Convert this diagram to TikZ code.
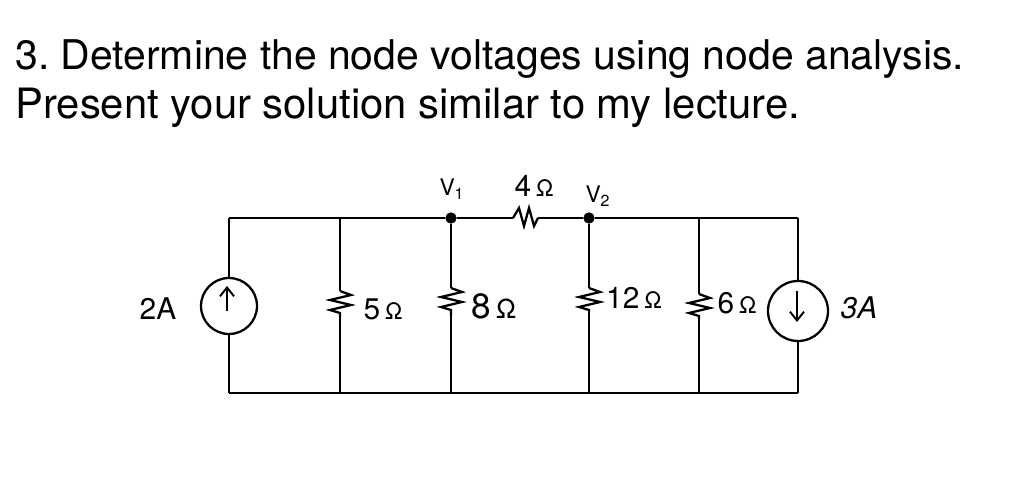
\documentclass[tikz,border=0pt]{standalone}
\usepackage{fontspec}
\setmainfont{TeX Gyre Heros}
\usetikzlibrary{positioning}
\usetikzlibrary{arrows.meta}
\tikzstyle{wire} = [draw,line width=1.3pt]
\tikzstyle{dot} = [circle,fill=black,draw,minimum size=6pt,inner sep=0pt]
\tikzstyle{source} = [circle,draw,line width=1.3pt,fill=white,minimum size=1.12cm,inner sep=0pt]
\tikzstyle{flow} = [draw,line width=1.1pt,-{Straight Barb[length=5pt,width=8pt]}]
\tikzstyle{hand} = [font=\fontsize{17}{20}\selectfont,inner sep=0pt]
\newcommand{\ohmsym}{{\fontsize{13}{15}\selectfont Ω}}

\begin{document}
\frenchspacing
\begin{tikzpicture}[x=0.02cm,y=-0.02cm]
  \useasboundingbox (0,0) rectangle (1035,499);

  \node[anchor=north west,align=left,inner sep=0pt,font=\fontsize{23.3}{27.8}\selectfont] (title) at (15,39)
    {3. Determine the node voltages using node analysis.\\{\fontsize{23.8}{27.8}\selectfont Present your solution similar to my lecture.}};

  % corners, top and bottom of each branch
  \foreach \pos/\name in {{(229,218)/tl}, {(340,218)/ta}, {(699,218)/td}, {(798,218)/tr},
      {(229,393)/bl}, {(340,393)/ba}, {(451,393)/bb}, {(589,393)/bc}, {(699,393)/bd}, {(798,393)/br},
      {(340,291)/ra1}, {(340,317)/ra2}, {(451,288)/rb1}, {(451,316)/rb2},
      {(589,288)/rc1}, {(589,311)/rc2}, {(699,294)/rd1}, {(699,319)/rd2},
      {(513,218)/re1}, {(538,218)/re2}}
    \node[coordinate] (\name) at \pos {};

  \node[dot] (v1) at (451,218) {};
  \node[dot] (v2) at (589,218) {};

  \foreach \source/ \dest in {tl/ta, ta/v1, v1/re1, re2/v2, v2/td, td/tr, bl/ba, ba/bb, bb/bc, bc/bd, bd/br,
      ta/ra1, ra2/ba, v1/rb1, rb2/bb, v2/rc1, rc2/bc, td/rd1, rd2/bd}
    \path[wire] (\source) -- (\dest);

  % zigzags
  \foreach \source/ \dest in {ra1/ra2, rb1/rb2, rc1/rc2, rd1/rd2}
    \path[wire] (\source) -- ++(11,4) -- ++(-21,5) -- ++(21,5) -- ++(-21,5) -- ++(10,3) -- (\dest);
  \path[wire] (re1) -- ++(6,-10) -- ++(5,18) -- ++(5,-18) -- ++(5,18) -- (re2);

  % the two current sources
  \node[source] (sa) at (229,306) {};
  \node[source,minimum size=1.2cm] (sb) at (798,311) {};
  \path[wire] (tl) -- (sa) (sa) -- (bl) (tr) -- (sb) (sb) -- (br);
  \coordinate (aa1) at (227,311);
  \coordinate (aa2) at (227,286);
  \coordinate (ab1) at (797,291);
  \coordinate (ab2) at (797,322);
  \path[flow] (aa1) -- (aa2);
  \path[flow] (ab1) -- (ab2);

  \foreach \pos/\name/\label in {{(158,309)/lsa/2A}, {(383,309)/lra/5\,\ohmsym}, {(494,306)/lrb/{\fontsize{20}{20}\selectfont 8}\,{\fontsize{15}{15}\selectfont Ω}},
      {(634,298)/lrc/12\,\ohmsym}, {(737,303)/lrd/6\,\ohmsym}, {(859,308)/lsb/\textit{3A}},
      {(534,186)/lre/4\,\ohmsym}}
    \node[hand] (\name) at \pos {\label};
  \node[hand,font=\fontsize{13}{15}\selectfont] (lv1) at (452,189) {V\textsubscript{1}};
  \node[hand,font=\fontsize{13}{15}\selectfont] (lv2) at (598,196) {V\textsubscript{2}};
\end{tikzpicture}
\end{document}
